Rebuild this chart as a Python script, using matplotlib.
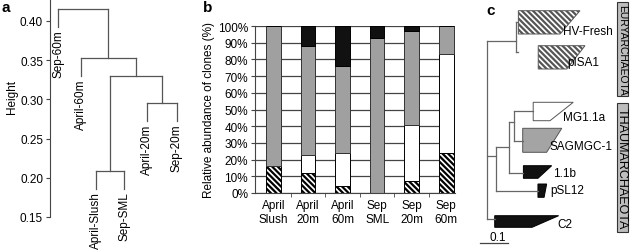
import numpy as np
import matplotlib.pyplot as plt
from matplotlib.patches import Polygon, Rectangle

plt.rcParams['font.family'] = ['Liberation Sans', 'DejaVu Sans']
plt.rcParams['font.size'] = 8.5
plt.rcParams['hatch.linewidth'] = 1.6

# ---- panel a: dendrogram ----
leaf_names = ['Sep-60m', 'April-60m', 'April-Slush', 'Sep-SML', 'April-20m', 'Sep-20m']
leaf_pos = [58.3, 81, 96, 124.3, 146.7, 176.7]
# merges: (child1, child2, height); new cluster ids start at 6
merges = [(2, 3, 0.209), (4, 5, 0.295), (6, 7, 0.330), (1, 8, 0.353), (0, 9, 0.415)]
hang = 0.023

# ---- panel b: stacked bars ----
samples = ['April\nSlush', 'April\n20m', 'April\n60m', 'Sep\nSML', 'Sep\n20m', 'Sep\n60m']
hatched = [16, 12, 4, 0, 7, 24]
white = [0, 11, 20, 0, 34, 59]
gray = [84, 65, 52, 93, 56, 17]
black = [0, 12, 24, 7, 3, 0]

# ---- panel c: tree (x = distance from root, y = row) ----
nodes = {
    'eury': ('root', 0.102, 41.7),
    'HV-Fresh': ('eury', 0.112, 23.3),
    'pISA1': ('eury', 0.112, 53.3),
    'thaum': ('root', 0.032, 156.7),
    'A': ('thaum', 0.0775, 148.3),
    'B': ('A', 0.0975, 123.3),
    'MG1.1a': ('B', 0.165, 111.7),
    'SAGMGC-1': ('B', 0.1275, 141.7),
    '1.1b': ('A', 0.130, 174.0),
    'pSL12': ('thaum', 0.182, 192.3),
    'C2': ('root', 0.0275, 220.0),
}
clades = ['HV-Fresh', 'pISA1', 'MG1.1a', 'SAGMGC-1', '1.1b', 'pSL12', 'C2']
clade_start = [0.112, 0.183, 0.165, 0.1275, 0.130, 0.182, 0.0275]
clade_far = [0.332, 0.350, 0.308, 0.267, 0.231, 0.213, 0.256]
clade_near = [0.261, 0.285, 0.225, 0.213, 0.182, 0.204, 0.161]
clade_top = [11.7, 46.7, 103.3, 129.3, 166.7, 185.0, 216.7]
clade_bottom = [35.0, 70.0, 121.7, 153.3, 179.3, 198.3, 228.3]
clade_fill = ['white', 'white', 'white', '#a4a4a4', '#111111', '#111111', '#111111']
clade_hatch = [True, True, False, False, False, False, False]
label_x = [0.270, 0.288, 0.271, 0.225, 0.235, 0.225, 0.250]
label_y = [31.7, 63.0, 118.0, 147.0, 174.0, 191.0, 225.0]
groups = ['EURYARCHAEOTA', 'THAUMARCHAEOTA']
group_top = [3, 104]
group_bottom = [97, 233]
group_size = [7.4, 9.0]

W, H = 630, 253
fig = plt.figure(figsize=(6.3, 2.53), dpi=100)

def frac(x0, y0, x1, y1):
    return [x0 / W, 1 - y1 / H, (x1 - x0) / W, (y1 - y0) / H]

# panel a
ax = fig.add_axes(frac(50, 0, 200, 218))
ax.set_xlim(50, 200)
ax.set_ylim(0.15, 0.428)
pos = {i: p for i, p in enumerate(leaf_pos)}
top = {}
lc = '#555555'
for k, (c1, c2, h) in enumerate(merges):
    nid = len(leaf_pos) + k
    ax.plot([pos[c1], pos[c2]], [h, h], color=lc, lw=0.9, clip_on=False)
    for c in (c1, c2):
        low = top[c] if c in top else h - hang
        ax.plot([pos[c], pos[c]], [h, low], color=lc, lw=0.9, clip_on=False)
        if c < len(leaf_pos):
            ax.text(pos[c], low - 0.003, leaf_names[c], rotation=90, ha='center', va='top',
                    fontsize=8.5)
    pos[nid] = (pos[c1] + pos[c2]) / 2
    top[nid] = h
for s in ['top', 'right', 'bottom']:
    ax.spines[s].set_visible(False)
ax.spines['left'].set_color('#444444')
ax.set_xticks([])
ax.set_yticks(np.arange(0.15, 0.401, 0.05))
ax.set_yticklabels(['%.2f' % v for v in np.arange(0.15, 0.401, 0.05)])
ax.tick_params(axis='y', length=3, pad=2, color='#444444')
fig.text(12 / W, 1 - 97 / H, 'Height', rotation=90, ha='center', va='center', fontsize=8.5)
fig.text(1 / W, 1 - 1 / H, 'a', fontsize=11, fontweight='bold', va='top')

# panel b
bx = fig.add_axes(frac(255, 27, 455, 194))
x = np.arange(len(samples))
bw = 0.425
hs = '\\' * 6
bx.bar(x, hatched, bw, color='white', edgecolor='black', hatch=hs, lw=0.7)
b1 = np.array(hatched)
bx.bar(x, white, bw, bottom=b1, color='white', edgecolor='black', lw=0.7)
b2 = b1 + np.array(white)
bx.bar(x, gray, bw, bottom=b2, color='#a0a0a0', edgecolor='#333333', lw=0.7)
b3 = b2 + np.array(gray)
bx.bar(x, black, bw, bottom=b3, color='#111111', edgecolor='black', lw=0.7)
bx.set_xlim(-0.53, 5.25)
bx.set_ylim(0, 100)
bx.set_yticks(np.arange(0, 101, 10))
bx.set_yticklabels(['%d%%' % v for v in range(0, 101, 10)])
bx.yaxis.grid(True, color='#444444', lw=0.9)
bx.set_axisbelow(True)
bx.set_xticks(x)
bx.set_xticklabels(samples, linespacing=1.25)
bx.set_xticks(x[:-1] + 0.5, minor=True)
bx.tick_params(axis='x', which='major', length=0, pad=4)
bx.tick_params(axis='x', which='minor', length=3, color='#444444')
bx.tick_params(axis='y', length=3, pad=2, color='#444444')
for s in ['top', 'right']:
    bx.spines[s].set_visible(False)
bx.spines['left'].set_color('#444444')
bx.spines['bottom'].set_color('#444444')
bx.set_ylabel('Relative abundance of clones (%)', labelpad=2)
fig.text(203 / W, 1 - 1 / H, 'b', fontsize=11, fontweight='bold', va='top')

# panel c
cx = fig.add_axes(frac(470, 0, 630, 253))
cx.set_xlim((470 - 487) / 280, (630 - 487) / 280)
cx.set_ylim(253, 0)
cx.axis('off')
tc = '#666666'
allpos = dict(nodes)
allpos['root'] = (None, 0.0, None)
for name, (par, d, yy) in nodes.items():
    cx.plot([allpos[par][1], d], [yy, yy], color=tc, lw=0.9)
for par in allpos:
    kids = [v[2] for v in nodes.values() if v[0] == par]
    if kids:
        cx.plot([allpos[par][1]] * 2, [min(kids), max(kids)], color=tc, lw=0.9)
for i, name in enumerate(clades):
    pts = [(clade_start[i], clade_top[i]), (clade_far[i], clade_top[i]),
           (clade_near[i], clade_bottom[i]), (clade_start[i], clade_bottom[i])]
    ec = '#555555' if clade_fill[i] != '#111111' else 'black'
    cx.add_patch(Polygon(pts, closed=True, facecolor=clade_fill[i], edgecolor=ec, lw=0.7,
                         hatch=hs if clade_hatch[i] else None))
    cx.text(label_x[i], label_y[i], name, ha='left', va='center', fontsize=8.5)
for g, t, b, fs in zip(groups, group_top, group_bottom, group_size):
    x0 = (616.5 - 487) / 280
    x1 = (627.5 - 487) / 280
    cx.add_patch(Rectangle((x0, t), x1 - x0, b - t, facecolor='#bdbdbd', edgecolor='#333333',
                           lw=0.8))
    cx.text((x0 + x1) / 2, (t + b) / 2, g, rotation=-90, ha='center', va='center', fontsize=fs)
cx.plot([-0.025, 0.075], [244, 244], color='#444444', lw=0.9)
cx.text(0.039, 238.5, '0.1', ha='center', va='center', fontsize=8.5)
fig.text(486 / W, 1 - 4 / H, 'c', fontsize=11, fontweight='bold', va='top')

fig.savefig('out.png', dpi=100)
